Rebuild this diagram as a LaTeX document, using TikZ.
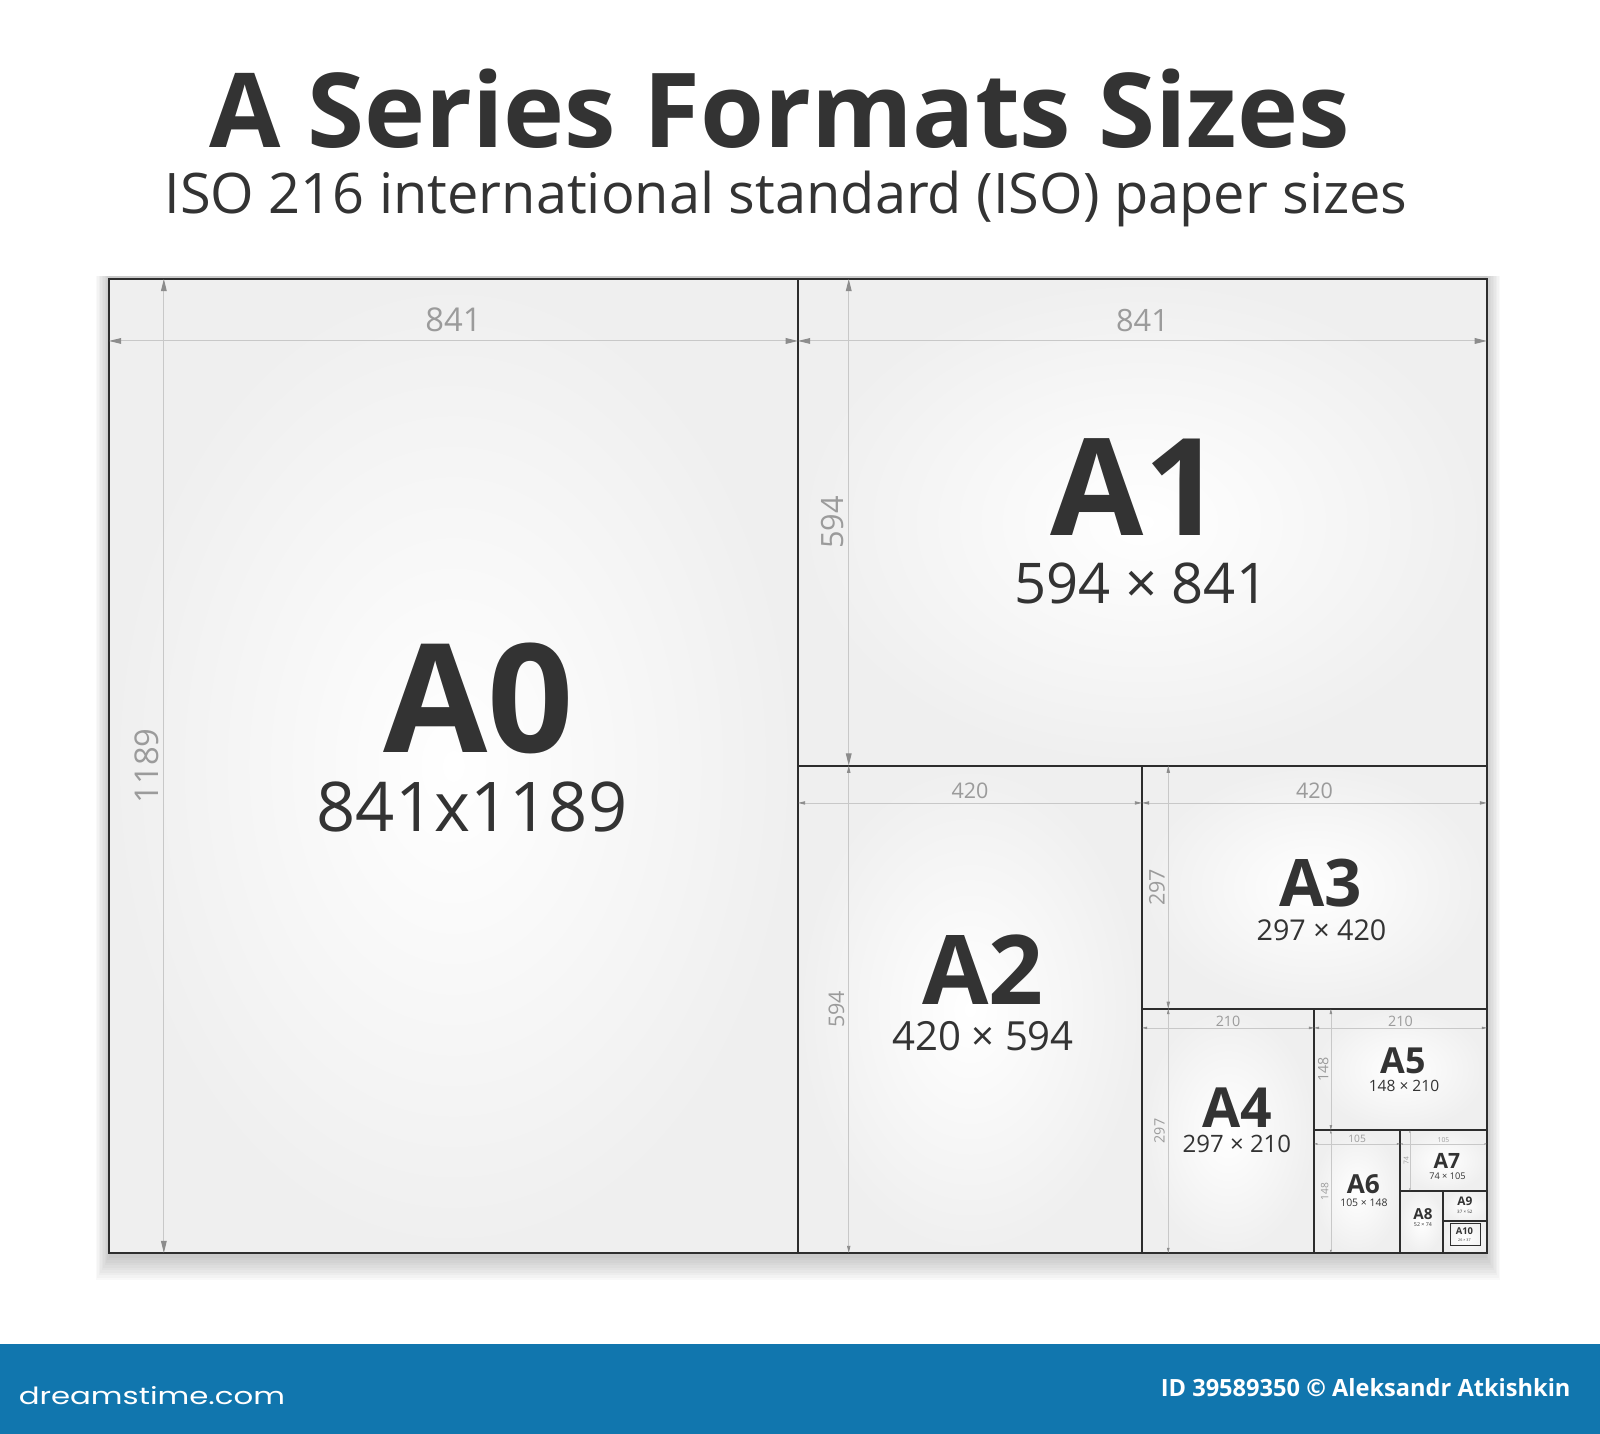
\documentclass[tikz,border=0pt]{standalone}
\usepackage{fontspec}
\setmainfont{Open Sans}
\newfontfamily\logofont{Poppins}
\usetikzlibrary{arrows.meta,positioning}
\definecolor{ink}{RGB}{51,51,51}
\definecolor{paperline}{RGB}{45,45,45}
\definecolor{papergray}{RGB}{239,239,239}
\definecolor{dimgray}{RGB}{200,200,200}
\definecolor{tipgray}{RGB}{140,140,140}
\definecolor{dimtext}{RGB}{155,155,155}
\definecolor{barblue}{RGB}{17,118,174}

\tikzset{
  paper/.style={draw=paperline, line width=1pt, inner color=white, outer color=papergray},
  dimline/.style n args={3}{draw=dimgray, line width=#1, >={Triangle[length=#2,width=#3,color=tipgray]}, <->},
  dimtxt/.style={font=\fontsize{#1}{#1}\selectfont, text=dimtext, inner sep=0pt},
  sheetname/.style={font=\bfseries\fontsize{#1}{#1}\selectfont, text=ink, anchor=base, inner sep=0pt},
  sheetsize/.style={font=\fontsize{#1}{#1}\selectfont, text=ink, anchor=base, inner sep=0pt},
}

\begin{document}
\begin{tikzpicture}[x=0.4pt, y=0.4pt]
\useasboundingbox (-133,340.5) rectangle (1820,-1409.5);

% title
\node[sheetname=50.5] (title) at (818.4,159.9) {A Series Formats Sizes};
\node[sheetsize=27.3] (subtitle) at (826.4,79.3) {ISO 216 international standard (ISO) paper sizes};

% soft shadow under the sheets
\foreach \s in {0,3,...,27}
  \fill[black, opacity=0.025] (-\s*0.6,4) rectangle (1682+\s*0.6,-1195-\s);

% the sheets
\foreach \nm/\xa/\ya/\xb/\yb in {A0/0/0/841/-1189, A1/841/0/1682/-594, A2/841/-594/1261/-1189,
    A3/1261/-594/1682/-891, A4/1261/-891/1471/-1189, A5/1471/-891/1682/-1039,
    A6/1471/-1039/1576/-1189, A7/1576/-1039/1682/-1113, A8/1576/-1113/1628/-1189,
    A9/1628/-1113/1682/-1150, A10/1628/-1150/1682/-1189}
  \draw[paper] (\xa,\ya) coordinate (\nm-nw) rectangle (\xb,\yb) coordinate (\nm-se);
\draw[paperline, line width=0.5pt] (1637,-1153) rectangle (1674,-1180);

% dimensions
\draw[dimline={0.5pt}{6pt}{2.8pt}] (A0-nw |- 0,-75.7) -- node[dimtxt=16, above=4pt]{841} (841,-75.7);
\draw[dimline={0.5pt}{6pt}{2.8pt}] (67,-1189) -- node[dimtxt=16, above=2pt, sloped]{1189} (67,0);
\draw[dimline={0.5pt}{6pt}{2.8pt}] (841,-75.7) -- node[dimtxt=15, above=4pt]{841} (1682,-75.7);
\draw[dimline={0.5pt}{6pt}{2.8pt}] (903,-594) -- node[dimtxt=15, above=2pt, sloped]{594} (903,0);

\draw[dimline={0.4pt}{3.5pt}{1.6pt}] (841,-639.6) -- node[dimtxt=10.5, above=2pt]{420} (1261,-639.6);
\draw[dimline={0.4pt}{3.5pt}{1.6pt}] (903,-1189) -- node[dimtxt=10.5, above=2pt, sloped]{594} (903,-594);
\draw[dimline={0.4pt}{3.5pt}{1.6pt}] (1261,-639.6) -- node[dimtxt=10.5, above=2pt]{420} (1682,-639.6);
\draw[dimline={0.4pt}{3.5pt}{1.6pt}] (1293,-891) -- node[dimtxt=10.5, above=1.5pt, sloped]{297} (1293,-594);

\draw[dimline={0.3pt}{2.5pt}{1.2pt}] (1261,-914.2) -- node[dimtxt=7, above=0.5pt]{210} (1471,-914.2);
\draw[dimline={0.3pt}{2.5pt}{1.2pt}] (1293,-1189) -- node[dimtxt=7, above=1.5pt, sloped]{297} (1293,-891);
\draw[dimline={0.3pt}{2.5pt}{1.2pt}] (1471,-914.2) -- node[dimtxt=7, above=0.5pt]{210} (1682,-914.2);
\draw[dimline={0.3pt}{2.5pt}{1.2pt}] (1491.5,-1039) -- node[dimtxt=7, above=1pt, sloped]{148} (1491.5,-891);

\draw[dimline={0.25pt}{1.6pt}{0.8pt}] (1471,-1055.8) -- node[dimtxt=5, above=0.5pt]{105} (1576,-1055.8);
\draw[dimline={0.25pt}{1.6pt}{0.8pt}] (1491.5,-1189) -- node[dimtxt=5, above=1pt, sloped]{148} (1491.5,-1039);
\draw[dimline={0.2pt}{1.2pt}{0.6pt}] (1576,-1055.8) -- node[dimtxt=3.3, above=0.4pt]{105} (1682,-1055.8);
\draw[dimline={0.2pt}{1.2pt}{0.6pt}] (1588,-1113) -- node[dimtxt=3.3, above=0.5pt, sloped]{74} (1588,-1039);

% sheet names and sizes
\node[sheetname=73.8] (A0name) at (451.6,-578.6) {A0};
\node[sheetsize=33.5] (A0size) at (443,-675) {841x1189};
\node[sheetname=66] (A1name) at (1253.6,-313.7) {A1};
\node[sheetsize=27.4] (A1size) at (1260,-396.7) {594 × 841};
\node[sheetname=47] (A2name) at (1066.8,-886) {A2};
\node[sheetsize=19.6] (A2size) at (1067,-942.3) {420 × 594};
\node[sheetname=32] (A3name) at (1479.4,-766.5) {A3};
\node[sheetsize=14] (A3size) at (1480,-808) {297 × 420};
\node[sheetname=27] (A4name) at (1377.4,-1036.3) {A4};
\node[sheetsize=11.7] (A4size) at (1376.8,-1066.8) {297 × 210};
\node[sheetname=17.5] (A5name) at (1580,-970.4) {A5};
\node[sheetsize=7.6] (A5size) at (1580.7,-992.3) {148 × 210};
\node[sheetname=12.8] (A6name) at (1531.2,-1116.8) {A6};
\node[sheetsize=5.1] (A6size) at (1531.8,-1132.7) {105 × 148};
\node[sheetname=10.3] (A7name) at (1633.2,-1086.3) {A7};
\node[sheetsize=4.5] (A7size) at (1633.8,-1099.8) {74 × 105};
\node[sheetname=7.4] (A8name) at (1603.9,-1148.1) {A8};
\node[sheetsize=2.6] (A8size) at (1603.9,-1157) {52 × 74};
\node[sheetname=5.8] (A9name) at (1655,-1131.5) {A9};
\node[sheetsize=2.2] (A9size) at (1655,-1141) {37 × 52};
\node[sheetname=4.6] (A10name) at (1654.5,-1166.9) {A10};
\node[sheetsize=1.8] (A10size) at (1654.5,-1175.4) {26 × 37};

% credit bar
\fill[barblue] (-133,-1300) rectangle (1820,-1409.5);
\node[anchor=base west, inner sep=0pt, text=white] (logo) at (-110.6,-1374.4)
  {\resizebox{130pt}{8.8pt}{\logofont dreamstime.com}};
\node[anchor=base east, inner sep=0pt, text=white] (credit) at (1784.5,-1364.6)
  {\resizebox{200pt}{8.8pt}{\bfseries ID 39589350 © Aleksandr Atkishkin}};
\end{tikzpicture}
\end{document}
